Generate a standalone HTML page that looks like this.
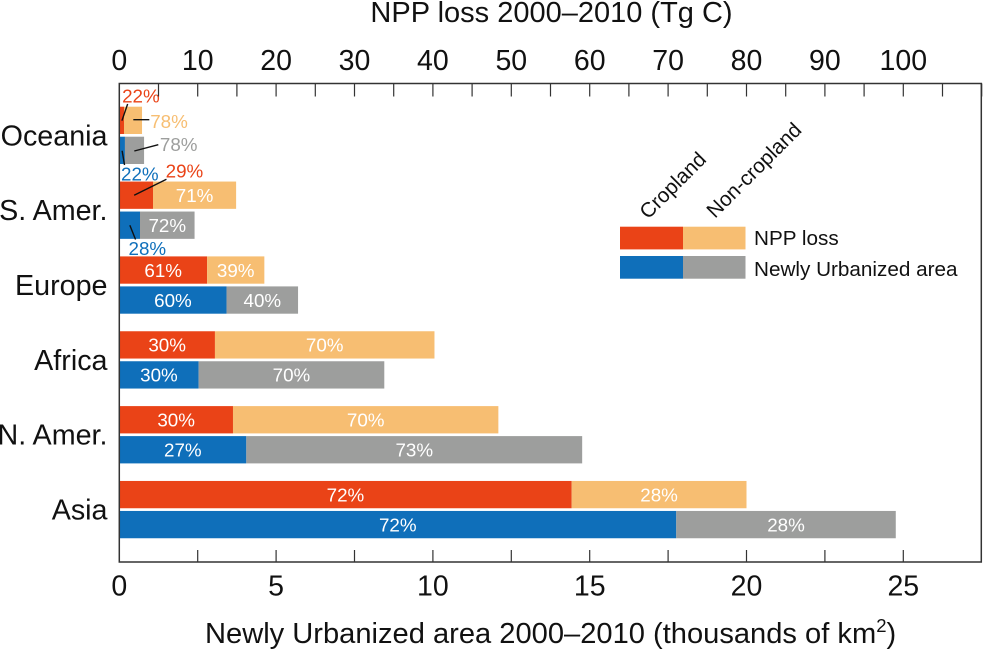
<!DOCTYPE html>
<html lang="en">
<head>
<meta charset="utf-8">
<title>NPP loss and newly urbanized area by continent</title>
<style>
html,body{margin:0;padding:0;background:#fff;width:983px;height:649px;overflow:hidden}
svg{display:block}
text{font-family:"Liberation Sans",sans-serif;fill:#111}
</style>
</head>
<body>
<svg id="chart" xmlns="http://www.w3.org/2000/svg" width="983" height="649" viewBox="0 0 983 649">
  <rect x="0" y="0" width="983" height="649" fill="#fff"/>
  <g id="bars"></g>
  <g id="callouts"></g>
  <rect x="119.3" y="83.5" width="862" height="478.5" fill="none" stroke="#333" stroke-width="1.5"/>
  <g id="top-ticks"></g>
  <g id="bottom-ticks"></g>
  <g id="row-labels"></g>
  <text x="551.5" y="22" text-anchor="middle" font-size="29">NPP loss 2000–2010 (Tg C)</text>
  <text x="205" y="643" font-size="29.1">Newly Urbanized area 2000–2010 (thousands of km<tspan dy="-11" font-size="18.5">2</tspan><tspan dy="11">)</tspan></text>
  <g>
    <rect x="620" y="226.7" width="63" height="22.7" fill="#EA4317"/>
    <rect x="683" y="226.7" width="62.5" height="22.7" fill="#F7BE72"/>
    <rect x="620" y="256" width="63" height="22.7" fill="#0F6FBA"/>
    <rect x="683" y="256" width="62.5" height="22.7" fill="#9D9E9D"/>
    <text x="754" y="245" font-size="20.7">NPP loss</text>
    <text x="754" y="276" font-size="20.7">Newly Urbanized area</text>
    <text transform="translate(648 220) rotate(-45)" font-size="20.7">Cropland</text>
    <text transform="translate(715 219) rotate(-45)" font-size="20.7">Non-cropland</text>
  </g>
</svg>
<script>
const categories = ["Oceania", "S. Amer.", "Europe", "Africa", "N. Amer.", "Asia"];
const nppCropland = [0.6, 4.3, 11.2, 12.2, 14.5, 57.7];
const nppNonCropland = [2.3, 10.6, 7.3, 28.0, 33.85, 22.3];
const urbanCropland = [0.18, 0.66, 3.42, 2.53, 4.05, 17.76];
const urbanNonCropland = [0.61, 1.74, 2.28, 5.92, 10.71, 7.0];
const nppCroplandPct = ["22%", "29%", "61%", "30%", "30%", "72%"];
const nppNonCroplandPct = ["78%", "71%", "39%", "70%", "70%", "28%"];
const urbanCroplandPct = ["22%", "28%", "60%", "30%", "27%", "72%"];
const urbanNonCroplandPct = ["78%", "72%", "40%", "70%", "73%", "28%"];
const topTickLabels = [0, 10, 20, 30, 40, 50, 60, 70, 80, 90, 100];
const bottomTickLabels = [0, 5, 10, 15, 20, 25];

const NS = "http://www.w3.org/2000/svg";
const X0 = 119.3, X_MAX = 981.3, AXIS_TOP = 83.5, AXIS_BOTTOM = 562;
const xNpp = v => X0 + v * 7.84;
const xUrban = v => X0 + v * 31.36;
const rowTop = i => 106.7 + i * 74.85;
const BAR_H = 27.3, PAIR_STEP = 30;
const COLORS = { nppCrop: "#EA4317", nppNon: "#F7BE72", urbCrop: "#0F6FBA", urbNon: "#9D9E9D" };

function el(tag, attrs, parent) {
  const n = document.createElementNS(NS, tag);
  for (const k in attrs) n.setAttribute(k, attrs[k]);
  parent.appendChild(n);
  return n;
}
const barsG = document.getElementById("bars");
const calloutG = document.getElementById("callouts");
const rowG = document.getElementById("row-labels");
const topG = document.getElementById("top-ticks");
const botG = document.getElementById("bottom-ticks");

/* Leader-line label layout: offsets relative to segment centre and bar top */
const calloutLayout = {
  "0-nppCrop": { l: [6, -2.7, 0.25, 14], t: [19.25, -4] },
  "0-nppNon": { l: [0.3, 13, 16.3, 13], t: [36, 21.3] },
  "0-urbCrop": { l: [0, 14, 2.4, 28.3], t: [17.7, 44] },
  "0-urbNon": { l: [-0.2, 14.3, 23.8, 8], t: [44.2, 14.3] },
  "1-nppCrop": { l: [-2, 13.7, 30.3, -2.3], t: [48.3, -4] },
  "1-urbCrop": { l: [0.2, 13.7, 5.9, 28], t: [17.7, 43.4] }
};

function segment(i, key, x1, x2, top, pct) {
  const r = el("rect", { x: x1, y: top, width: Math.max(0, x2 - x1), height: BAR_H, fill: COLORS[key] }, barsG);
  
  
  const cx = (x1 + x2) / 2;
  const layout = calloutLayout[i + "-" + key];
  let tx = cx, ty = top + 20.4, fill = "#fff";
  if (layout) {
    const ln = el("line", { x1: cx + layout.l[0], y1: top + layout.l[1], x2: cx + layout.l[2], y2: top + layout.l[3], stroke: "#111", "stroke-width": 1.4 }, calloutG);
    
    
    tx = cx + layout.t[0];
    ty = top + layout.t[1];
    fill = COLORS[key];
  }
  const t = el("text", { x: tx, y: ty, "text-anchor": "middle", "font-size": 18.8 }, calloutG);
  t.style.fill = fill;
  t.textContent = pct;
  
  
}

categories.forEach((name, i) => {
  const top = rowTop(i);
  const a = xNpp(nppCropland[i]);
  const b = xNpp(nppCropland[i] + nppNonCropland[i]);
  const c = xUrban(urbanCropland[i]);
  const d = xUrban(urbanCropland[i] + urbanNonCropland[i]);
  segment(i, "nppCrop", X0, a, top, nppCroplandPct[i]);
  segment(i, "nppNon", a, b, top, nppNonCroplandPct[i]);
  segment(i, "urbCrop", X0, c, top + PAIR_STEP, urbanCroplandPct[i]);
  segment(i, "urbNon", c, d, top + PAIR_STEP, urbanNonCroplandPct[i]);
  const lab = el("text", { x: 107.5, y: top + 38.6, "text-anchor": "end", "font-size": 28.7 }, rowG);
  lab.textContent = name;
  
  
});

/* Top axis: ticks every 5 Tg C, labels every 10 */
for (let v = 5; xNpp(v) < X_MAX + 1; v += 5) {
  const tk = el("line", { x1: xNpp(v), x2: xNpp(v), y1: AXIS_TOP, y2: AXIS_TOP + 13, stroke: "#333", "stroke-width": 1.2 }, topG);
  
  
}
topTickLabels.forEach(v => {
  const t = el("text", { x: xNpp(v), y: 70, "text-anchor": "middle", "font-size": 28.5 }, topG);
  t.textContent = v;
  
  
});

/* Bottom axis: ticks every 2.5 thousand km2, labels every 5 */
for (let v = 2.5; xUrban(v) < X_MAX - 4; v += 2.5) {
  const tk = el("line", { x1: xUrban(v), x2: xUrban(v), y1: AXIS_BOTTOM - 12, y2: AXIS_BOTTOM, stroke: "#333", "stroke-width": 1.2 }, botG);
  
  
}
bottomTickLabels.forEach(v => {
  const t = el("text", { x: xUrban(v), y: 595.5, "text-anchor": "middle", "font-size": 28.5 }, botG);
  t.textContent = v;
  
  
});
</script>
</body>
</html>
